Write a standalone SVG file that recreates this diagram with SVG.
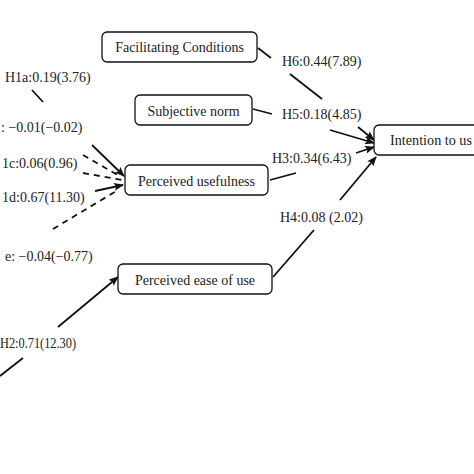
<svg xmlns="http://www.w3.org/2000/svg" width="474" height="474" viewBox="0 0 474 474">
<defs>
<marker id="ah" markerUnits="userSpaceOnUse" markerWidth="10" markerHeight="8" refX="9" refY="4" orient="auto">
<path d="M0,0 L10,4 L0,8 L2,4 Z" fill="#111"/>
</marker>
<style>
.box{fill:#fff;stroke:#111;stroke-width:1.3}
.t{font-family:"Liberation Serif","DejaVu Serif",serif;font-size:14px;fill:#222}
.ln{stroke:#111;stroke-width:1.8;fill:none}
.ds{stroke:#111;stroke-width:1.8;fill:none;stroke-dasharray:6,5}
</style>
</defs>
<rect width="474" height="474" fill="#fff"/>
<g id="connectors">
<line class="ln" x1="258" y1="48" x2="271" y2="58"/>
<line class="ln" x1="290" y1="74" x2="322" y2="99"/>
<line class="ln" x1="358" y1="127" x2="374" y2="140" marker-end="url(#ah)"/>
<line class="ln" x1="253" y1="109" x2="272" y2="114"/>
<line class="ln" x1="330" y1="130" x2="374" y2="143" marker-end="url(#ah)"/>
<line class="ln" x1="270" y1="180" x2="296" y2="173"/>
<line class="ln" x1="356" y1="153" x2="374" y2="147" marker-end="url(#ah)"/>
<line class="ln" x1="273" y1="277" x2="314" y2="230"/>
<line class="ln" x1="340" y1="200" x2="376" y2="157" marker-end="url(#ah)"/>
<line class="ln" x1="0" y1="376" x2="23" y2="358"/>
<line class="ln" x1="58" y1="327" x2="118" y2="277" marker-end="url(#ah)"/>
<line class="ln" x1="32" y1="90" x2="43" y2="102"/>
<line class="ln" x1="92" y1="145" x2="124" y2="176" marker-end="url(#ah)"/>
<line class="ds" x1="83" y1="155" x2="121" y2="177"/>
<line class="ds" x1="83" y1="173" x2="122" y2="180"/>
<line class="ln" x1="95" y1="191" x2="123" y2="185" marker-end="url(#ah)"/>
<line class="ds" x1="53" y1="229" x2="118" y2="190"/>
</g>
<g id="fc"><rect class="box" x="102" y="32" width="155" height="30" rx="5"/><text class="t" x="179.5" y="52" text-anchor="middle">Facilitating Conditions</text></g>
<g id="sn"><rect class="box" x="135" y="95" width="117" height="30" rx="5"/><text class="t" x="193.5" y="116" text-anchor="middle">Subjective norm</text></g>
<g id="pu"><rect class="box" x="125" y="165" width="143" height="30" rx="5"/><text class="t" x="196.5" y="186" text-anchor="middle">Perceived usefulness</text></g>
<g id="peou"><rect class="box" x="118" y="264" width="154" height="30" rx="5"/><text class="t" x="195" y="285" text-anchor="middle">Perceived ease of use</text></g>
<g id="itu"><rect class="box" x="374" y="125" width="130" height="30" rx="5"/><text class="t" x="390" y="145" textLength="82" lengthAdjust="spacingAndGlyphs">Intention to us</text></g>
<g id="labels">
<text class="t" x="5" y="82">H1a:0.19(3.76)</text>
<text class="t" x="1" y="132">: −0.01(−0.02)</text>
<text class="t" x="2" y="168">1c:0.06(0.96)</text>
<text class="t" x="2" y="202">1d:0.67(11.30)</text>
<text class="t" x="5" y="261">e: −0.04(−0.77)</text>
<text class="t" x="0" y="348" textLength="76" lengthAdjust="spacingAndGlyphs">H2:0.71(12.30)</text>
<text class="t" x="282" y="66">H6:0.44(7.89)</text>
<text class="t" x="282" y="119">H5:0.18(4.85)</text>
<text class="t" x="272" y="163">H3:0.34(6.43)</text>
<text class="t" x="280" y="222">H4:0.08 (2.02)</text>
</g>
</svg>
